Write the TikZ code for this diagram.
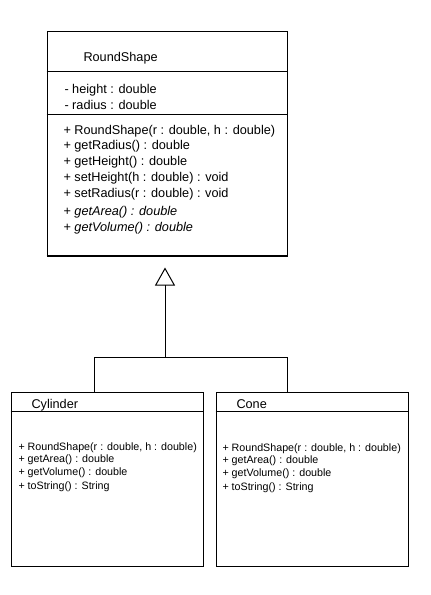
\documentclass[tikz,border=0pt]{standalone}
\usepackage{fontspec}
\setmainfont{Liberation Sans}
\usetikzlibrary{positioning,arrows.meta}
\tikzset{cls/.style={draw,line width=1pt,inner sep=0pt,minimum width=192pt},
	 big/.style={anchor=base west,inner sep=0pt,font=\fontsize{12.7}{15}\selectfont},
	 small/.style={anchor=base west,inner sep=0pt,font=\fontsize{10.7}{13}\selectfont},
	 inherit/.style={line width=1pt,-{Triangle[open,length=18pt,width=20pt]}}
	 }
\begin{document}
\begin{tikzpicture}[x=1pt,y=-1pt,line width=1pt] % RoundShape hierarchy
	\useasboundingbox (0,0) rectangle (431,595);
	\node[cls,minimum width=240pt,minimum height=225pt] (shape) at (167,143.5) {};
	\node[cls,minimum height=174pt] (cyl) at (107,479) {};
	\node[cls,minimum height=174pt] (cone) at (312,479) {};
	\draw ([yshift=-41pt]shape.north west) to ([yshift=-41pt]shape.north east);
	\draw ([yshift=-84pt]shape.north west) to ([yshift=-84pt]shape.north east);
	\draw [line width=2pt] ([yshift=0.5pt]shape.south west) to ([yshift=0.5pt]shape.south east);
	\draw ([yshift=-20pt]cyl.north west) to ([yshift=-20pt]cyl.north east);
	\draw ([yshift=-20pt]cone.north west) to ([yshift=-20pt]cone.north east);
	\node[big] (s0) at (83,61) {RoundShape};
	\node[big] (s1) at (64,93) {- height : double};
	\node[big] (s2) at (64,109) {- radius : double};
	\node[big] (s3) at (63,134) {+ RoundShape(r : double, h : double)};
	\node[big] (s4) at (63,149) {+ getRadius() : double};
	\node[big] (s5) at (63,165) {+ getHeight() : double};
	\node[big] (s6) at (63,181) {+ setHeight(h : double) : void};
	\node[big] (s7) at (63,197) {+ setRadius(r : double) : void};
	\node[big] (s8) at (63,215) {+ \textit{getArea() : double}};
	\node[big] (s9) at (63,231) {+ \textit{getVolume() : double}};
	\node[big] (c0) at (31,408) {Cylinder};
	\node[small] (c1) at (18,450.5) {+ RoundShape(r : double, h : double)};
	\node[small] (c2) at (18,462.5) {+ getArea() : double};
	\node[small] (c3) at (18,475.5) {+ getVolume() : double};
	\node[small] (c4) at (18,489.5) {+ toString() : String};
	\node[big] (k0) at (236,408) {Cone};
	\node[small] (k1) at (222,451.5) {+ RoundShape(r : double, h : double)};
	\node[small] (k2) at (222,463.5) {+ getArea() : double};
	\node[small] (k3) at (222,476.5) {+ getVolume() : double};
	\node[small] (k4) at (222,490.5) {+ toString() : String};
	\coordinate (jc) at (165,357);
	\coordinate (jl) at (94,357);
	\coordinate (jr) at (287,357);
	\draw (jl |- cyl.north) to (jl) to (jr) to (jr |- cone.north);
	\draw [inherit,shorten >=11pt] (jc) to (jc |- shape.south);
\end{tikzpicture}
\end{document}
